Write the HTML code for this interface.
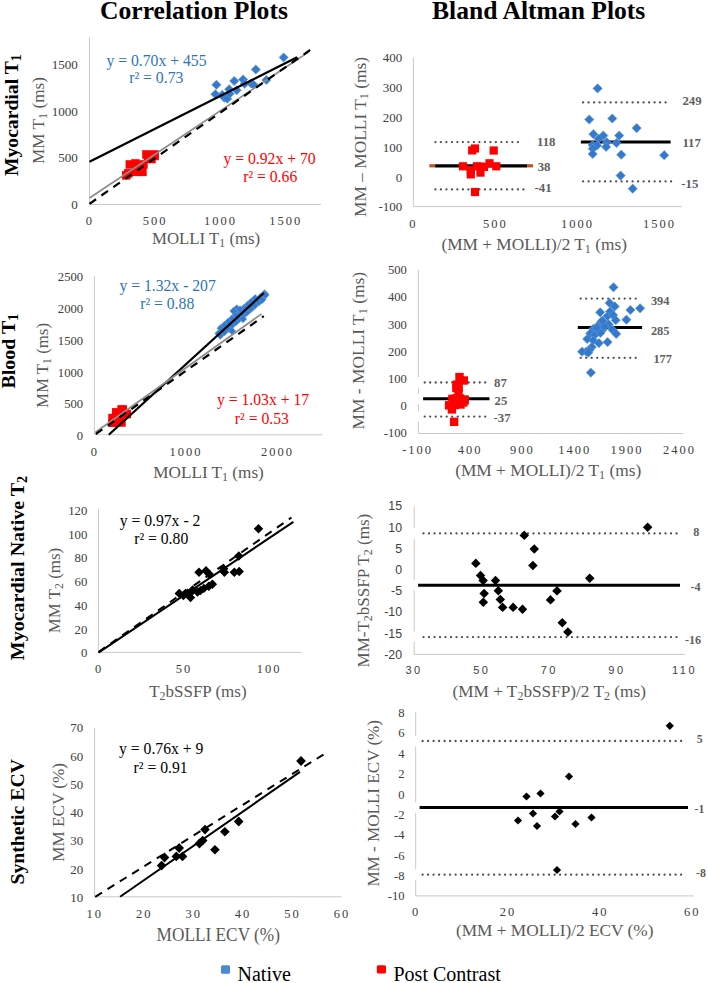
<!DOCTYPE html>
<html><head><meta charset="utf-8"><style>
html,body{margin:0;padding:0;background:#fff;width:708px;height:983px;overflow:hidden}
svg{display:block;font-family:"Liberation Serif",serif}
</style></head><body>
<svg width="708" height="983" viewBox="0 0 708 983">
<rect width="708" height="983" fill="#fff"/>
<text x="100.0" y="19.0" font-size="25.6" fill="#000" font-weight="bold" >Correlation Plots</text>
<text x="432.0" y="19.0" font-size="25.6" fill="#000" font-weight="bold" >Bland Altman Plots</text>
<line x1="89.5" y1="37.5" x2="89.5" y2="204.5" stroke="#c9c9c9" stroke-width="1"/>
<line x1="89.5" y1="204.5" x2="321.0" y2="204.5" stroke="#c9c9c9" stroke-width="1"/>
<text x="77.9" y="209.0" font-size="13.1" text-anchor="end" fill="#404040" >0</text>
<text x="77.9" y="162.3" font-size="13.1" text-anchor="end" fill="#404040" >500</text>
<text x="77.9" y="115.7" font-size="13.1" text-anchor="end" fill="#404040" >1000</text>
<text x="77.9" y="69.0" font-size="13.1" text-anchor="end" fill="#404040" >1500</text>
<text x="89.8" y="224.8" font-size="12.5" text-anchor="middle" fill="#404040" letter-spacing="2.0" >0</text>
<text x="155.1" y="224.8" font-size="12.5" text-anchor="middle" fill="#404040" letter-spacing="2.0" >500</text>
<text x="220.5" y="224.8" font-size="12.5" text-anchor="middle" fill="#404040" letter-spacing="2.0" >1000</text>
<text x="285.8" y="224.8" font-size="12.5" text-anchor="middle" fill="#404040" letter-spacing="2.0" >1500</text>
<rect x="122.0" y="171.1" width="8.5" height="8.5" fill="#ff0000"/>
<rect x="124.1" y="169.1" width="8.5" height="8.5" fill="#ff0000"/>
<rect x="131.9" y="167.6" width="8.5" height="8.5" fill="#ff0000"/>
<rect x="138.2" y="167.6" width="8.5" height="8.5" fill="#ff0000"/>
<rect x="125.6" y="160.2" width="8.5" height="8.5" fill="#ff0000"/>
<rect x="131.2" y="159.2" width="8.5" height="8.5" fill="#ff0000"/>
<rect x="139.2" y="160.2" width="8.5" height="8.5" fill="#ff0000"/>
<rect x="142.2" y="150.2" width="8.5" height="8.5" fill="#ff0000"/>
<rect x="150.3" y="150.2" width="8.5" height="8.5" fill="#ff0000"/>
<rect x="150.3" y="151.7" width="8.5" height="8.5" fill="#ff0000"/>
<rect x="143.8" y="154.2" width="8.5" height="8.5" fill="#ff0000"/>
<rect x="147.2" y="154.8" width="8.5" height="8.5" fill="#ff0000"/>
<rect x="135.8" y="162.8" width="8.5" height="8.5" fill="#ff0000"/>
<path d="M283.6 52.9L288.2 57.4L283.6 61.9L279.1 57.4Z" fill="#3479cc" stroke="#5b96d6" stroke-width="0.7"/>
<path d="M255.8 65.0L260.4 69.5L255.8 74.0L251.2 69.5Z" fill="#3479cc" stroke="#5b96d6" stroke-width="0.7"/>
<path d="M216.4 80.2L221.0 84.8L216.4 89.3L211.8 84.8Z" fill="#3479cc" stroke="#5b96d6" stroke-width="0.7"/>
<path d="M215.4 89.7L220.0 94.2L215.4 98.8L210.8 94.2Z" fill="#3479cc" stroke="#5b96d6" stroke-width="0.7"/>
<path d="M222.3 90.2L226.9 94.7L222.3 99.2L217.8 94.7Z" fill="#3479cc" stroke="#5b96d6" stroke-width="0.7"/>
<path d="M224.3 93.2L228.9 97.7L224.3 102.2L219.8 97.7Z" fill="#3479cc" stroke="#5b96d6" stroke-width="0.7"/>
<path d="M227.3 94.2L231.9 98.7L227.3 103.2L222.8 98.7Z" fill="#3479cc" stroke="#5b96d6" stroke-width="0.7"/>
<path d="M229.2 84.8L233.8 89.3L229.2 93.8L224.6 89.3Z" fill="#3479cc" stroke="#5b96d6" stroke-width="0.7"/>
<path d="M234.2 76.4L238.8 80.9L234.2 85.5L229.6 80.9Z" fill="#3479cc" stroke="#5b96d6" stroke-width="0.7"/>
<path d="M236.7 85.8L241.2 90.3L236.7 94.8L232.1 90.3Z" fill="#3479cc" stroke="#5b96d6" stroke-width="0.7"/>
<path d="M243.1 74.9L247.7 79.4L243.1 84.0L238.5 79.4Z" fill="#3479cc" stroke="#5b96d6" stroke-width="0.7"/>
<path d="M244.6 79.2L249.2 83.8L244.6 88.3L240.0 83.8Z" fill="#3479cc" stroke="#5b96d6" stroke-width="0.7"/>
<path d="M251.0 78.9L255.6 83.4L251.0 88.0L246.4 83.4Z" fill="#3479cc" stroke="#5b96d6" stroke-width="0.7"/>
<path d="M253.5 80.2L258.1 84.8L253.5 89.3L248.9 84.8Z" fill="#3479cc" stroke="#5b96d6" stroke-width="0.7"/>
<path d="M266.3 75.4L270.9 79.9L266.3 84.5L261.8 79.9Z" fill="#3479cc" stroke="#5b96d6" stroke-width="0.7"/>
<path d="M229.7 89.2L234.2 93.7L229.7 98.2L225.1 93.7Z" fill="#3479cc" stroke="#5b96d6" stroke-width="0.7"/>
<line x1="89.5" y1="161.8" x2="297.1" y2="57.3" stroke="#000" stroke-width="2.2"/>
<line x1="89.5" y1="198.0" x2="309.5" y2="51.4" stroke="#8c8c8c" stroke-width="1.7"/>
<line x1="89.5" y1="203.8" x2="310.4" y2="49.8" stroke="#000" stroke-width="2.2" stroke-dasharray="8,6.5"/>
<text x="156.5" y="65.5" font-size="15.7" text-anchor="middle" fill="#2e75b6" >y = 0.70x + 455</text>
<text x="156.3" y="83.2" font-size="15.7" text-anchor="middle" fill="#2e75b6" >r² = 0.73</text>
<text x="269.5" y="164.4" font-size="15.7" text-anchor="middle" fill="#ff0000" >y = 0.92x + 70</text>
<text x="270.2" y="182.0" font-size="15.7" text-anchor="middle" fill="#ff0000" >r² = 0.66</text>
<text x="152.0" y="244.4" font-size="17.3" fill="#595959" textLength="108.2" lengthAdjust="spacingAndGlyphs" >MOLLI T<tspan font-size="70%" dy="3">1</tspan><tspan dy="-3"> (ms)</tspan></text>
<text x="0.0" y="0.0" font-size="18" text-anchor="middle" fill="#595959" textLength="87" lengthAdjust="spacingAndGlyphs" transform="translate(43.9,120.5) scale(0.97,1) rotate(-90)">MM T<tspan font-size="70%" dy="3">1</tspan><tspan dy="-3"> (ms)</tspan></text>
<text x="0.0" y="0.0" font-size="19.8" text-anchor="middle" fill="#000" font-weight="bold" textLength="121.8" lengthAdjust="spacingAndGlyphs" transform="translate(17.8,115.2) rotate(-90)">Myocardial T<tspan font-size="70%" dy="3">1</tspan><tspan dy="-3"></tspan></text>
<line x1="413.4" y1="57.6" x2="413.4" y2="206.6" stroke="#c9c9c9" stroke-width="1"/>
<line x1="413.4" y1="206.6" x2="681.5" y2="206.6" stroke="#c9c9c9" stroke-width="1"/>
<text x="402.3" y="62.4" font-size="13" text-anchor="end" fill="#404040" >400</text>
<text x="402.3" y="92.2" font-size="13" text-anchor="end" fill="#404040" >300</text>
<text x="402.3" y="122.0" font-size="13" text-anchor="end" fill="#404040" >200</text>
<text x="402.3" y="151.8" font-size="13" text-anchor="end" fill="#404040" >100</text>
<text x="402.3" y="181.6" font-size="13" text-anchor="end" fill="#404040" >0</text>
<text x="402.3" y="211.4" font-size="13" text-anchor="end" fill="#404040" >-100</text>
<text x="413.3" y="227.6" font-size="12.5" text-anchor="middle" fill="#404040" letter-spacing="2.0" >0</text>
<text x="495.4" y="227.6" font-size="12.5" text-anchor="middle" fill="#404040" letter-spacing="2.0" >500</text>
<text x="577.5" y="227.6" font-size="12.5" text-anchor="middle" fill="#404040" letter-spacing="2.0" >1000</text>
<text x="659.6" y="227.6" font-size="12.5" text-anchor="middle" fill="#404040" letter-spacing="2.0" >1500</text>
<line x1="435.4" y1="142.1" x2="521.0" y2="142.1" stroke="#4f4f4f" stroke-width="2.3" stroke-dasharray="0.01,5.49" stroke-linecap="round"/>
<line x1="435.4" y1="189.4" x2="523.5" y2="189.4" stroke="#4f4f4f" stroke-width="2.3" stroke-dasharray="0.01,5.49" stroke-linecap="round"/>
<line x1="435.0" y1="165.8" x2="527.1" y2="165.8" stroke="#000" stroke-width="3.2"/>
<rect x="429.3" y="164.2" width="6" height="3.2" fill="#c0561c"/>
<rect x="527.1" y="164.2" width="6" height="3.2" fill="#c0561c"/>
<rect x="468.1" y="146.3" width="8.2" height="8.2" fill="#ff0000"/>
<rect x="470.9" y="144.4" width="8.2" height="8.2" fill="#ff0000"/>
<rect x="489.6" y="146.4" width="8.2" height="8.2" fill="#ff0000"/>
<rect x="458.9" y="162.2" width="8.2" height="8.2" fill="#ff0000"/>
<rect x="466.7" y="166.1" width="8.2" height="8.2" fill="#ff0000"/>
<rect x="466.7" y="170.3" width="8.2" height="8.2" fill="#ff0000"/>
<rect x="472.8" y="162.2" width="8.2" height="8.2" fill="#ff0000"/>
<rect x="476.4" y="162.6" width="8.2" height="8.2" fill="#ff0000"/>
<rect x="476.4" y="168.5" width="8.2" height="8.2" fill="#ff0000"/>
<rect x="479.9" y="162.8" width="8.2" height="8.2" fill="#ff0000"/>
<rect x="485.4" y="159.2" width="8.2" height="8.2" fill="#ff0000"/>
<rect x="492.2" y="162.2" width="8.2" height="8.2" fill="#ff0000"/>
<rect x="470.9" y="187.9" width="8.2" height="8.2" fill="#ff0000"/>
<text x="537.0" y="145.8" font-size="12.8" fill="#5f5f5f" font-weight="bold" >118</text>
<text x="537.7" y="170.7" font-size="12.8" fill="#5f5f5f" font-weight="bold" >38</text>
<text x="534.6" y="192.2" font-size="12.8" fill="#5f5f5f" font-weight="bold" >-41</text>
<line x1="583.1" y1="102.4" x2="667.0" y2="102.4" stroke="#4f4f4f" stroke-width="2.3" stroke-dasharray="0.01,5.49" stroke-linecap="round"/>
<line x1="583.1" y1="181.4" x2="671.8" y2="181.4" stroke="#4f4f4f" stroke-width="2.3" stroke-dasharray="0.01,5.49" stroke-linecap="round"/>
<line x1="580.9" y1="142.1" x2="670.6" y2="142.1" stroke="#000" stroke-width="3"/>
<path d="M597.6 83.8L602.2 88.4L597.6 93.0L593.0 88.4Z" fill="#3479cc" stroke="#5b96d6" stroke-width="0.7"/>
<path d="M589.3 114.9L593.9 119.5L589.3 124.1L584.7 119.5Z" fill="#3479cc" stroke="#5b96d6" stroke-width="0.7"/>
<path d="M612.3 113.9L616.9 118.5L612.3 123.1L607.7 118.5Z" fill="#3479cc" stroke="#5b96d6" stroke-width="0.7"/>
<path d="M636.7 123.5L641.3 128.1L636.7 132.7L632.1 128.1Z" fill="#3479cc" stroke="#5b96d6" stroke-width="0.7"/>
<path d="M593.4 129.6L598.0 134.2L593.4 138.8L588.8 134.2Z" fill="#3479cc" stroke="#5b96d6" stroke-width="0.7"/>
<path d="M603.3 131.0L607.9 135.6L603.3 140.2L598.7 135.6Z" fill="#3479cc" stroke="#5b96d6" stroke-width="0.7"/>
<path d="M619.2 131.0L623.8 135.6L619.2 140.2L614.6 135.6Z" fill="#3479cc" stroke="#5b96d6" stroke-width="0.7"/>
<path d="M598.7 134.2L603.3 138.8L598.7 143.4L594.1 138.8Z" fill="#3479cc" stroke="#5b96d6" stroke-width="0.7"/>
<path d="M606.8 137.7L611.4 142.3L606.8 146.9L602.2 142.3Z" fill="#3479cc" stroke="#5b96d6" stroke-width="0.7"/>
<path d="M616.4 138.4L621.0 143.0L616.4 147.6L611.8 143.0Z" fill="#3479cc" stroke="#5b96d6" stroke-width="0.7"/>
<path d="M592.7 140.5L597.3 145.1L592.7 149.7L588.1 145.1Z" fill="#3479cc" stroke="#5b96d6" stroke-width="0.7"/>
<path d="M597.0 140.9L601.6 145.5L597.0 150.1L592.4 145.5Z" fill="#3479cc" stroke="#5b96d6" stroke-width="0.7"/>
<path d="M606.1 142.3L610.7 146.9L606.1 151.5L601.5 146.9Z" fill="#3479cc" stroke="#5b96d6" stroke-width="0.7"/>
<path d="M592.7 144.1L597.3 148.7L592.7 153.3L588.1 148.7Z" fill="#3479cc" stroke="#5b96d6" stroke-width="0.7"/>
<path d="M592.7 149.4L597.3 154.0L592.7 158.6L588.1 154.0Z" fill="#3479cc" stroke="#5b96d6" stroke-width="0.7"/>
<path d="M621.3 150.1L625.9 154.7L621.3 159.3L616.7 154.7Z" fill="#3479cc" stroke="#5b96d6" stroke-width="0.7"/>
<path d="M664.2 150.6L668.8 155.2L664.2 159.8L659.6 155.2Z" fill="#3479cc" stroke="#5b96d6" stroke-width="0.7"/>
<path d="M620.6 171.0L625.2 175.6L620.6 180.2L616.0 175.6Z" fill="#3479cc" stroke="#5b96d6" stroke-width="0.7"/>
<path d="M632.7 184.1L637.3 188.7L632.7 193.3L628.1 188.7Z" fill="#3479cc" stroke="#5b96d6" stroke-width="0.7"/>
<text x="682.4" y="105.4" font-size="12.8" fill="#5f5f5f" font-weight="bold" >249</text>
<text x="682.4" y="147.2" font-size="12.8" fill="#5f5f5f" font-weight="bold" >117</text>
<text x="681.3" y="187.7" font-size="12.8" fill="#5f5f5f" font-weight="bold" >-15</text>
<text x="441.5" y="250.4" font-size="17.4" fill="#595959" textLength="185.4" lengthAdjust="spacingAndGlyphs" >(MM + MOLLI)/2 T<tspan font-size="70%" dy="3">1</tspan><tspan dy="-3"> (ms)</tspan></text>
<text x="0.0" y="0.0" font-size="17.7" text-anchor="middle" fill="#595959" textLength="160" lengthAdjust="spacingAndGlyphs" transform="translate(365.5,137.0) scale(0.97,1) rotate(-90)">MM – MOLLI T<tspan font-size="70%" dy="3">1</tspan><tspan dy="-3"> (ms)</tspan></text>
<line x1="94.4" y1="276.3" x2="94.4" y2="434.8" stroke="#c9c9c9" stroke-width="1"/>
<line x1="94.4" y1="434.8" x2="322.4" y2="434.8" stroke="#c9c9c9" stroke-width="1"/>
<text x="83.2" y="440.3" font-size="12.7" text-anchor="end" fill="#404040" >0</text>
<text x="83.2" y="408.4" font-size="12.7" text-anchor="end" fill="#404040" >500</text>
<text x="83.2" y="376.5" font-size="12.7" text-anchor="end" fill="#404040" >1000</text>
<text x="83.2" y="344.6" font-size="12.7" text-anchor="end" fill="#404040" >1500</text>
<text x="83.2" y="312.7" font-size="12.7" text-anchor="end" fill="#404040" >2000</text>
<text x="83.2" y="280.8" font-size="12.7" text-anchor="end" fill="#404040" >2500</text>
<text x="94.8" y="455.6" font-size="12.5" text-anchor="middle" fill="#404040" letter-spacing="2.0" >0</text>
<text x="186.1" y="455.6" font-size="12.5" text-anchor="middle" fill="#404040" letter-spacing="2.0" >1000</text>
<text x="277.4" y="455.6" font-size="12.5" text-anchor="middle" fill="#404040" letter-spacing="2.0" >2000</text>
<rect x="108.3" y="418.6" width="8.4" height="8.4" fill="#ff0000"/>
<rect x="112.3" y="418.3" width="8.4" height="8.4" fill="#ff0000"/>
<rect x="117.3" y="418.3" width="8.4" height="8.4" fill="#ff0000"/>
<rect x="112.0" y="408.1" width="8.4" height="8.4" fill="#ff0000"/>
<rect x="117.3" y="405.3" width="8.4" height="8.4" fill="#ff0000"/>
<rect x="118.6" y="405.3" width="8.4" height="8.4" fill="#ff0000"/>
<rect x="108.3" y="413.8" width="8.4" height="8.4" fill="#ff0000"/>
<rect x="122.4" y="409.6" width="8.4" height="8.4" fill="#ff0000"/>
<rect x="122.4" y="410.0" width="8.4" height="8.4" fill="#ff0000"/>
<rect x="114.8" y="412.8" width="8.4" height="8.4" fill="#ff0000"/>
<path d="M218.5 329.8L222.2 333.5L218.5 337.2L214.8 333.5Z" fill="#3479cc" stroke="#5b96d6" stroke-width="0.7"/>
<path d="M220.3 331.9L224.0 335.6L220.3 339.3L216.6 335.6Z" fill="#3479cc" stroke="#5b96d6" stroke-width="0.7"/>
<path d="M222.3 326.5L226.0 330.2L222.3 333.9L218.6 330.2Z" fill="#3479cc" stroke="#5b96d6" stroke-width="0.7"/>
<path d="M224.2 328.6L227.9 332.3L224.2 336.0L220.5 332.3Z" fill="#3479cc" stroke="#5b96d6" stroke-width="0.7"/>
<path d="M220.7 324.6L224.4 328.3L220.7 332.0L217.0 328.3Z" fill="#3479cc" stroke="#5b96d6" stroke-width="0.7"/>
<path d="M226.2 323.1L229.9 326.8L226.2 330.5L222.5 326.8Z" fill="#3479cc" stroke="#5b96d6" stroke-width="0.7"/>
<path d="M228.0 325.2L231.7 328.9L228.0 332.6L224.3 328.9Z" fill="#3479cc" stroke="#5b96d6" stroke-width="0.7"/>
<path d="M224.5 321.2L228.2 324.9L224.5 328.6L220.8 324.9Z" fill="#3479cc" stroke="#5b96d6" stroke-width="0.7"/>
<path d="M230.0 319.8L233.7 323.5L230.0 327.2L226.3 323.5Z" fill="#3479cc" stroke="#5b96d6" stroke-width="0.7"/>
<path d="M231.8 321.9L235.5 325.6L231.8 329.3L228.1 325.6Z" fill="#3479cc" stroke="#5b96d6" stroke-width="0.7"/>
<path d="M228.4 317.9L232.1 321.6L228.4 325.3L224.7 321.6Z" fill="#3479cc" stroke="#5b96d6" stroke-width="0.7"/>
<path d="M233.8 316.5L237.5 320.2L233.8 323.9L230.1 320.2Z" fill="#3479cc" stroke="#5b96d6" stroke-width="0.7"/>
<path d="M235.7 318.6L239.4 322.3L235.7 326.0L232.0 322.3Z" fill="#3479cc" stroke="#5b96d6" stroke-width="0.7"/>
<path d="M232.2 314.6L235.9 318.3L232.2 322.0L228.5 318.3Z" fill="#3479cc" stroke="#5b96d6" stroke-width="0.7"/>
<path d="M237.7 313.1L241.4 316.8L237.7 320.5L234.0 316.8Z" fill="#3479cc" stroke="#5b96d6" stroke-width="0.7"/>
<path d="M239.5 315.2L243.2 318.9L239.5 322.6L235.8 318.9Z" fill="#3479cc" stroke="#5b96d6" stroke-width="0.7"/>
<path d="M236.0 311.2L239.7 314.9L236.0 318.6L232.3 314.9Z" fill="#3479cc" stroke="#5b96d6" stroke-width="0.7"/>
<path d="M241.5 309.8L245.2 313.5L241.5 317.2L237.8 313.5Z" fill="#3479cc" stroke="#5b96d6" stroke-width="0.7"/>
<path d="M243.3 311.9L247.0 315.6L243.3 319.3L239.6 315.6Z" fill="#3479cc" stroke="#5b96d6" stroke-width="0.7"/>
<path d="M239.9 307.9L243.6 311.6L239.9 315.3L236.2 311.6Z" fill="#3479cc" stroke="#5b96d6" stroke-width="0.7"/>
<path d="M245.3 306.5L249.0 310.2L245.3 313.9L241.6 310.2Z" fill="#3479cc" stroke="#5b96d6" stroke-width="0.7"/>
<path d="M247.2 308.6L250.9 312.3L247.2 316.0L243.5 312.3Z" fill="#3479cc" stroke="#5b96d6" stroke-width="0.7"/>
<path d="M243.7 304.6L247.4 308.3L243.7 312.0L240.0 308.3Z" fill="#3479cc" stroke="#5b96d6" stroke-width="0.7"/>
<path d="M249.2 303.1L252.9 306.8L249.2 310.5L245.5 306.8Z" fill="#3479cc" stroke="#5b96d6" stroke-width="0.7"/>
<path d="M251.0 305.2L254.7 308.9L251.0 312.6L247.3 308.9Z" fill="#3479cc" stroke="#5b96d6" stroke-width="0.7"/>
<path d="M247.5 301.2L251.2 304.9L247.5 308.6L243.8 304.9Z" fill="#3479cc" stroke="#5b96d6" stroke-width="0.7"/>
<path d="M253.0 299.8L256.7 303.5L253.0 307.2L249.3 303.5Z" fill="#3479cc" stroke="#5b96d6" stroke-width="0.7"/>
<path d="M254.8 301.9L258.5 305.6L254.8 309.3L251.1 305.6Z" fill="#3479cc" stroke="#5b96d6" stroke-width="0.7"/>
<path d="M251.4 297.9L255.1 301.6L251.4 305.3L247.7 301.6Z" fill="#3479cc" stroke="#5b96d6" stroke-width="0.7"/>
<path d="M256.8 296.5L260.5 300.2L256.8 303.9L253.1 300.2Z" fill="#3479cc" stroke="#5b96d6" stroke-width="0.7"/>
<path d="M258.7 298.6L262.4 302.3L258.7 306.0L255.0 302.3Z" fill="#3479cc" stroke="#5b96d6" stroke-width="0.7"/>
<path d="M255.2 294.6L258.9 298.3L255.2 302.0L251.5 298.3Z" fill="#3479cc" stroke="#5b96d6" stroke-width="0.7"/>
<path d="M260.7 293.1L264.4 296.8L260.7 300.5L257.0 296.8Z" fill="#3479cc" stroke="#5b96d6" stroke-width="0.7"/>
<path d="M262.5 295.2L266.2 298.9L262.5 302.6L258.8 298.9Z" fill="#3479cc" stroke="#5b96d6" stroke-width="0.7"/>
<path d="M264.5 289.8L268.2 293.5L264.5 297.2L260.8 293.5Z" fill="#3479cc" stroke="#5b96d6" stroke-width="0.7"/>
<path d="M236.7 304.8L240.4 308.5L236.7 312.2L233.0 308.5Z" fill="#3479cc" stroke="#5b96d6" stroke-width="0.7"/>
<path d="M233.5 307.3L237.2 311.0L233.5 314.7L229.8 311.0Z" fill="#3479cc" stroke="#5b96d6" stroke-width="0.7"/>
<path d="M240.0 305.8L243.7 309.5L240.0 313.2L236.3 309.5Z" fill="#3479cc" stroke="#5b96d6" stroke-width="0.7"/>
<path d="M246.0 304.8L249.7 308.5L246.0 312.2L242.3 308.5Z" fill="#3479cc" stroke="#5b96d6" stroke-width="0.7"/>
<path d="M262.0 296.3L265.7 300.0L262.0 303.7L258.3 300.0Z" fill="#3479cc" stroke="#5b96d6" stroke-width="0.7"/>
<path d="M265.5 291.3L269.2 295.0L265.5 298.7L261.8 295.0Z" fill="#3479cc" stroke="#5b96d6" stroke-width="0.7"/>
<path d="M232.0 327.3L235.7 331.0L232.0 334.7L228.3 331.0Z" fill="#3479cc" stroke="#5b96d6" stroke-width="0.7"/>
<path d="M243.0 315.3L246.7 319.0L243.0 322.7L239.3 319.0Z" fill="#3479cc" stroke="#5b96d6" stroke-width="0.7"/>
<line x1="108.8" y1="434.8" x2="263.8" y2="293.0" stroke="#000" stroke-width="2.2"/>
<line x1="95.5" y1="432.3" x2="261.6" y2="313.9" stroke="#8c8c8c" stroke-width="1.7"/>
<line x1="95.8" y1="434.0" x2="263.8" y2="316.2" stroke="#000" stroke-width="2.2" stroke-dasharray="8,6.5"/>
<text x="167.6" y="290.7" font-size="15.7" text-anchor="middle" fill="#2e75b6" >y = 1.32x - 207</text>
<text x="167.2" y="308.6" font-size="15.7" text-anchor="middle" fill="#2e75b6" >r² = 0.88</text>
<text x="263.0" y="405.0" font-size="15.7" text-anchor="middle" fill="#ff0000" >y = 1.03x + 17</text>
<text x="261.9" y="424.2" font-size="15.7" text-anchor="middle" fill="#ff0000" >r² = 0.53</text>
<text x="153.3" y="478.3" font-size="17.5" fill="#595959" textLength="110.5" lengthAdjust="spacingAndGlyphs" >MOLLI T<tspan font-size="70%" dy="3">1</tspan><tspan dy="-3"> (ms)</tspan></text>
<text x="0.0" y="0.0" font-size="17.5" text-anchor="middle" fill="#595959" textLength="85" lengthAdjust="spacingAndGlyphs" transform="translate(48.2,365.5) scale(0.97,1) rotate(-90)">MM T<tspan font-size="70%" dy="3">1</tspan><tspan dy="-3"> (ms)</tspan></text>
<text x="0.0" y="0.0" font-size="19.8" text-anchor="middle" fill="#000" font-weight="bold" textLength="74.8" lengthAdjust="spacingAndGlyphs" transform="translate(15.2,351.1) rotate(-90)">Blood T<tspan font-size="70%" dy="3">1</tspan><tspan dy="-3"></tspan></text>
<line x1="418.4" y1="270.0" x2="418.4" y2="377.3" stroke="#c9c9c9" stroke-width="1"/>
<line x1="418.4" y1="387.7" x2="418.4" y2="393.5" stroke="#c9c9c9" stroke-width="1"/>
<line x1="418.4" y1="403.9" x2="418.4" y2="411.4" stroke="#c9c9c9" stroke-width="1"/>
<line x1="418.4" y1="421.8" x2="418.4" y2="433.5" stroke="#c9c9c9" stroke-width="1"/>
<line x1="418.4" y1="433.5" x2="683.0" y2="433.5" stroke="#c9c9c9" stroke-width="1"/>
<text x="406.9" y="274.2" font-size="12.6" text-anchor="end" fill="#404040" >500</text>
<text x="406.9" y="301.4" font-size="12.6" text-anchor="end" fill="#404040" >400</text>
<text x="406.9" y="328.6" font-size="12.6" text-anchor="end" fill="#404040" >300</text>
<text x="406.9" y="355.8" font-size="12.6" text-anchor="end" fill="#404040" >200</text>
<text x="406.9" y="383.0" font-size="12.6" text-anchor="end" fill="#404040" >100</text>
<text x="406.9" y="410.2" font-size="12.6" text-anchor="end" fill="#404040" >0</text>
<text x="406.9" y="437.4" font-size="12.6" text-anchor="end" fill="#404040" >-100</text>
<text x="417.6" y="454.1" font-size="12.5" text-anchor="middle" fill="#404040" letter-spacing="2.0" >-100</text>
<text x="470.0" y="454.1" font-size="12.5" text-anchor="middle" fill="#404040" letter-spacing="2.0" >400</text>
<text x="522.3" y="454.1" font-size="12.5" text-anchor="middle" fill="#404040" letter-spacing="2.0" >900</text>
<text x="574.7" y="454.1" font-size="12.5" text-anchor="middle" fill="#404040" letter-spacing="2.0" >1400</text>
<text x="627.0" y="454.1" font-size="12.5" text-anchor="middle" fill="#404040" letter-spacing="2.0" >1900</text>
<text x="679.4" y="454.1" font-size="12.5" text-anchor="middle" fill="#404040" letter-spacing="2.0" >2400</text>
<line x1="424.7" y1="382.5" x2="485.7" y2="382.5" stroke="#4f4f4f" stroke-width="2.3" stroke-dasharray="0.01,5.49" stroke-linecap="round"/>
<line x1="424.7" y1="416.6" x2="485.7" y2="416.6" stroke="#4f4f4f" stroke-width="2.3" stroke-dasharray="0.01,5.49" stroke-linecap="round"/>
<line x1="423.1" y1="398.7" x2="489.5" y2="398.7" stroke="#000" stroke-width="3"/>
<rect x="455.3" y="372.9" width="8.4" height="8.4" fill="#ff0000"/>
<rect x="459.6" y="376.3" width="8.4" height="8.4" fill="#ff0000"/>
<rect x="452.4" y="380.5" width="8.4" height="8.4" fill="#ff0000"/>
<rect x="454.4" y="383.6" width="8.4" height="8.4" fill="#ff0000"/>
<rect x="452.2" y="383.8" width="8.4" height="8.4" fill="#ff0000"/>
<rect x="454.3" y="387.8" width="8.4" height="8.4" fill="#ff0000"/>
<rect x="448.2" y="394.7" width="8.4" height="8.4" fill="#ff0000"/>
<rect x="451.8" y="394.3" width="8.4" height="8.4" fill="#ff0000"/>
<rect x="455.8" y="394.3" width="8.4" height="8.4" fill="#ff0000"/>
<rect x="460.3" y="395.3" width="8.4" height="8.4" fill="#ff0000"/>
<rect x="460.3" y="396.3" width="8.4" height="8.4" fill="#ff0000"/>
<rect x="444.9" y="401.1" width="8.4" height="8.4" fill="#ff0000"/>
<rect x="447.7" y="405.2" width="8.4" height="8.4" fill="#ff0000"/>
<rect x="450.8" y="400.8" width="8.4" height="8.4" fill="#ff0000"/>
<rect x="456.3" y="400.3" width="8.4" height="8.4" fill="#ff0000"/>
<rect x="459.1" y="398.2" width="8.4" height="8.4" fill="#ff0000"/>
<rect x="449.9" y="417.6" width="8.4" height="8.4" fill="#ff0000"/>
<text x="494.0" y="386.9" font-size="12.8" fill="#5f5f5f" font-weight="bold" >87</text>
<text x="494.6" y="404.7" font-size="12.8" fill="#5f5f5f" font-weight="bold" >25</text>
<text x="493.5" y="421.9" font-size="12.8" fill="#5f5f5f" font-weight="bold" >-37</text>
<line x1="580.7" y1="298.6" x2="641.1" y2="298.6" stroke="#4f4f4f" stroke-width="2.3" stroke-dasharray="0.01,5.49" stroke-linecap="round"/>
<line x1="580.7" y1="357.8" x2="641.1" y2="357.8" stroke="#4f4f4f" stroke-width="2.3" stroke-dasharray="0.01,5.49" stroke-linecap="round"/>
<line x1="577.8" y1="327.5" x2="642.1" y2="327.5" stroke="#000" stroke-width="2.8"/>
<path d="M613.5 282.7L618.1 287.3L613.5 291.9L608.9 287.3Z" fill="#3479cc" stroke="#5b96d6" stroke-width="0.7"/>
<path d="M609.6 298.3L614.2 302.9L609.6 307.5L605.0 302.9Z" fill="#3479cc" stroke="#5b96d6" stroke-width="0.7"/>
<path d="M614.7 301.8L619.3 306.4L614.7 311.0L610.1 306.4Z" fill="#3479cc" stroke="#5b96d6" stroke-width="0.7"/>
<path d="M630.4 305.4L635.0 310.0L630.4 314.6L625.8 310.0Z" fill="#3479cc" stroke="#5b96d6" stroke-width="0.7"/>
<path d="M640.1 303.7L644.7 308.3L640.1 312.9L635.5 308.3Z" fill="#3479cc" stroke="#5b96d6" stroke-width="0.7"/>
<path d="M600.2 307.7L604.8 312.3L600.2 316.9L595.6 312.3Z" fill="#3479cc" stroke="#5b96d6" stroke-width="0.7"/>
<path d="M610.1 306.9L614.7 311.5L610.1 316.1L605.5 311.5Z" fill="#3479cc" stroke="#5b96d6" stroke-width="0.7"/>
<path d="M607.6 311.5L612.2 316.1L607.6 320.7L603.0 316.1Z" fill="#3479cc" stroke="#5b96d6" stroke-width="0.7"/>
<path d="M613.1 310.5L617.7 315.1L613.1 319.7L608.5 315.1Z" fill="#3479cc" stroke="#5b96d6" stroke-width="0.7"/>
<path d="M615.7 315.6L620.3 320.2L615.7 324.8L611.1 320.2Z" fill="#3479cc" stroke="#5b96d6" stroke-width="0.7"/>
<path d="M626.4 315.1L631.0 319.7L626.4 324.3L621.8 319.7Z" fill="#3479cc" stroke="#5b96d6" stroke-width="0.7"/>
<path d="M601.4 317.1L606.0 321.7L601.4 326.3L596.8 321.7Z" fill="#3479cc" stroke="#5b96d6" stroke-width="0.7"/>
<path d="M608.6 319.7L613.2 324.3L608.6 328.9L604.0 324.3Z" fill="#3479cc" stroke="#5b96d6" stroke-width="0.7"/>
<path d="M597.4 321.7L602.0 326.3L597.4 330.9L592.8 326.3Z" fill="#3479cc" stroke="#5b96d6" stroke-width="0.7"/>
<path d="M602.5 325.2L607.1 329.8L602.5 334.4L597.9 329.8Z" fill="#3479cc" stroke="#5b96d6" stroke-width="0.7"/>
<path d="M612.6 325.2L617.2 329.8L612.6 334.4L608.0 329.8Z" fill="#3479cc" stroke="#5b96d6" stroke-width="0.7"/>
<path d="M616.2 329.3L620.8 333.9L616.2 338.5L611.6 333.9Z" fill="#3479cc" stroke="#5b96d6" stroke-width="0.7"/>
<path d="M593.3 324.2L597.9 328.8L593.3 333.4L588.7 328.8Z" fill="#3479cc" stroke="#5b96d6" stroke-width="0.7"/>
<path d="M590.3 328.8L594.9 333.4L590.3 338.0L585.7 333.4Z" fill="#3479cc" stroke="#5b96d6" stroke-width="0.7"/>
<path d="M594.8 330.3L599.4 334.9L594.8 339.5L590.2 334.9Z" fill="#3479cc" stroke="#5b96d6" stroke-width="0.7"/>
<path d="M600.4 328.3L605.0 332.9L600.4 337.5L595.8 332.9Z" fill="#3479cc" stroke="#5b96d6" stroke-width="0.7"/>
<path d="M587.2 334.4L591.8 339.0L587.2 343.6L582.6 339.0Z" fill="#3479cc" stroke="#5b96d6" stroke-width="0.7"/>
<path d="M593.3 335.9L597.9 340.5L593.3 345.1L588.7 340.5Z" fill="#3479cc" stroke="#5b96d6" stroke-width="0.7"/>
<path d="M598.9 338.5L603.5 343.1L598.9 347.7L594.3 343.1Z" fill="#3479cc" stroke="#5b96d6" stroke-width="0.7"/>
<path d="M607.6 337.5L612.2 342.1L607.6 346.7L603.0 342.1Z" fill="#3479cc" stroke="#5b96d6" stroke-width="0.7"/>
<path d="M591.8 342.5L596.4 347.1L591.8 351.7L587.2 347.1Z" fill="#3479cc" stroke="#5b96d6" stroke-width="0.7"/>
<path d="M589.2 345.6L593.8 350.2L589.2 354.8L584.6 350.2Z" fill="#3479cc" stroke="#5b96d6" stroke-width="0.7"/>
<path d="M586.2 347.1L590.8 351.7L586.2 356.3L581.6 351.7Z" fill="#3479cc" stroke="#5b96d6" stroke-width="0.7"/>
<path d="M582.1 347.1L586.7 351.7L582.1 356.3L577.5 351.7Z" fill="#3479cc" stroke="#5b96d6" stroke-width="0.7"/>
<path d="M588.2 348.1L592.8 352.7L588.2 357.3L583.6 352.7Z" fill="#3479cc" stroke="#5b96d6" stroke-width="0.7"/>
<path d="M590.8 368.0L595.4 372.6L590.8 377.2L586.2 372.6Z" fill="#3479cc" stroke="#5b96d6" stroke-width="0.7"/>
<path d="M596.9 323.2L601.5 327.8L596.9 332.4L592.3 327.8Z" fill="#3479cc" stroke="#5b96d6" stroke-width="0.7"/>
<path d="M604.5 321.7L609.1 326.3L604.5 330.9L599.9 326.3Z" fill="#3479cc" stroke="#5b96d6" stroke-width="0.7"/>
<path d="M602.5 316.1L607.1 320.7L602.5 325.3L597.9 320.7Z" fill="#3479cc" stroke="#5b96d6" stroke-width="0.7"/>
<text x="650.9" y="305.4" font-size="12.4" fill="#5f5f5f" font-weight="bold" >394</text>
<text x="650.9" y="335.0" font-size="12.4" fill="#5f5f5f" font-weight="bold" >285</text>
<text x="653.4" y="362.9" font-size="12.4" fill="#5f5f5f" font-weight="bold" >177</text>
<text x="455.2" y="476.4" font-size="16.6" fill="#595959" textLength="186" lengthAdjust="spacingAndGlyphs" >(MM + MOLLI)/2 T<tspan font-size="70%" dy="3">1</tspan><tspan dy="-3"> (ms)</tspan></text>
<text x="0.0" y="0.0" font-size="17.1" text-anchor="middle" fill="#595959" textLength="157.6" lengthAdjust="spacingAndGlyphs" transform="translate(364.3,350.7) scale(0.97,1) rotate(-90)">MM - MOLLI T<tspan font-size="70%" dy="3">1</tspan><tspan dy="-3"> (ms)</tspan></text>
<line x1="98.5" y1="509.2" x2="98.5" y2="652.4" stroke="#c9c9c9" stroke-width="1"/>
<line x1="98.5" y1="652.4" x2="301.9" y2="652.4" stroke="#c9c9c9" stroke-width="1"/>
<text x="87.4" y="657.3" font-size="12.8" text-anchor="end" fill="#404040" >0</text>
<text x="87.4" y="633.5" font-size="12.8" text-anchor="end" fill="#404040" >20</text>
<text x="87.4" y="609.8" font-size="12.8" text-anchor="end" fill="#404040" >40</text>
<text x="87.4" y="586.0" font-size="12.8" text-anchor="end" fill="#404040" >60</text>
<text x="87.4" y="562.3" font-size="12.8" text-anchor="end" fill="#404040" >80</text>
<text x="87.4" y="538.6" font-size="12.8" text-anchor="end" fill="#404040" >100</text>
<text x="87.4" y="514.8" font-size="12.8" text-anchor="end" fill="#404040" >120</text>
<text x="99.0" y="673.0" font-size="12.5" text-anchor="middle" fill="#404040" letter-spacing="2.0" >0</text>
<text x="184.1" y="673.0" font-size="12.5" text-anchor="middle" fill="#404040" letter-spacing="2.0" >50</text>
<text x="269.2" y="673.0" font-size="12.5" text-anchor="middle" fill="#404040" letter-spacing="2.0" >100</text>
<path d="M258.5 524.0L263.2 528.7L258.5 533.4L253.8 528.7Z" fill="#000"/>
<path d="M238.8 551.3L243.5 556.0L238.8 560.7L234.1 556.0Z" fill="#000"/>
<path d="M223.7 564.0L228.4 568.7L223.7 573.4L219.0 568.7Z" fill="#000"/>
<path d="M224.4 567.5L229.1 572.2L224.4 576.9L219.7 572.2Z" fill="#000"/>
<path d="M234.3 567.5L239.0 572.2L234.3 576.9L229.6 572.2Z" fill="#000"/>
<path d="M239.2 566.8L243.9 571.5L239.2 576.2L234.5 571.5Z" fill="#000"/>
<path d="M199.0 567.5L203.7 572.2L199.0 576.9L194.3 572.2Z" fill="#000"/>
<path d="M206.0 566.1L210.7 570.8L206.0 575.5L201.3 570.8Z" fill="#000"/>
<path d="M209.3 569.6L214.0 574.3L209.3 579.0L204.6 574.3Z" fill="#000"/>
<path d="M212.4 579.5L217.1 584.2L212.4 588.9L207.7 584.2Z" fill="#000"/>
<path d="M208.8 581.6L213.5 586.3L208.8 591.0L204.1 586.3Z" fill="#000"/>
<path d="M203.9 583.7L208.6 588.4L203.9 593.1L199.2 588.4Z" fill="#000"/>
<path d="M200.4 585.9L205.1 590.6L200.4 595.3L195.7 590.6Z" fill="#000"/>
<path d="M197.5 587.3L202.2 592.0L197.5 596.7L192.8 592.0Z" fill="#000"/>
<path d="M192.6 585.2L197.3 589.9L192.6 594.6L187.9 589.9Z" fill="#000"/>
<path d="M189.8 588.7L194.5 593.4L189.8 598.1L185.1 593.4Z" fill="#000"/>
<path d="M185.5 588.7L190.2 593.4L185.5 598.1L180.8 593.4Z" fill="#000"/>
<path d="M179.2 588.7L183.9 593.4L179.2 598.1L174.5 593.4Z" fill="#000"/>
<path d="M190.5 592.9L195.2 597.6L190.5 602.3L185.8 597.6Z" fill="#000"/>
<path d="M183.4 590.8L188.1 595.5L183.4 600.2L178.7 595.5Z" fill="#000"/>
<line x1="98.5" y1="652.6" x2="293.4" y2="521.9" stroke="#000" stroke-width="2"/>
<line x1="98.5" y1="652.0" x2="291.5" y2="517.5" stroke="#000" stroke-width="2" stroke-dasharray="8,6.5"/>
<text x="160.0" y="525.8" font-size="15.7" text-anchor="middle" fill="#000" >y = 0.97x - 2</text>
<text x="161.2" y="544.4" font-size="15.7" text-anchor="middle" fill="#000" >r² = 0.80</text>
<text x="149.2" y="696.6" font-size="17.3" fill="#595959" textLength="97.4" lengthAdjust="spacingAndGlyphs" >T<tspan font-size="70%" dy="3">2</tspan><tspan dy="-3">bSSFP (ms)</tspan></text>
<text x="0.0" y="0.0" font-size="17.1" text-anchor="middle" fill="#595959" textLength="85.5" lengthAdjust="spacingAndGlyphs" transform="translate(59.6,590.6) scale(0.97,1) rotate(-90)">MM T<tspan font-size="70%" dy="3">2</tspan><tspan dy="-3"> (ms)</tspan></text>
<text x="0.0" y="0.0" font-size="19.8" text-anchor="middle" fill="#000" font-weight="bold" textLength="184.3" lengthAdjust="spacingAndGlyphs" transform="translate(24.0,568.0) rotate(-90)">Myocardial Native T<tspan font-size="70%" dy="3">2</tspan><tspan dy="-3"></tspan></text>
<line x1="414.2" y1="506.2" x2="414.2" y2="528.3" stroke="#c9c9c9" stroke-width="1"/>
<line x1="414.2" y1="538.7" x2="414.2" y2="580.1" stroke="#c9c9c9" stroke-width="1"/>
<line x1="414.2" y1="590.5" x2="414.2" y2="631.4" stroke="#c9c9c9" stroke-width="1"/>
<line x1="414.2" y1="641.8" x2="414.2" y2="654.4" stroke="#c9c9c9" stroke-width="1"/>
<line x1="414.2" y1="654.4" x2="684.8" y2="654.4" stroke="#c9c9c9" stroke-width="1"/>
<text x="402.0" y="510.3" font-size="12.3" text-anchor="end" fill="#404040" font-family="Liberation Sans" >15</text>
<text x="402.0" y="531.5" font-size="12.3" text-anchor="end" fill="#404040" font-family="Liberation Sans" >10</text>
<text x="402.0" y="552.7" font-size="12.3" text-anchor="end" fill="#404040" font-family="Liberation Sans" >5</text>
<text x="402.0" y="573.9" font-size="12.3" text-anchor="end" fill="#404040" font-family="Liberation Sans" >0</text>
<text x="402.0" y="595.1" font-size="12.3" text-anchor="end" fill="#404040" font-family="Liberation Sans" >-5</text>
<text x="402.0" y="616.3" font-size="12.3" text-anchor="end" fill="#404040" font-family="Liberation Sans" >-10</text>
<text x="402.0" y="637.5" font-size="12.3" text-anchor="end" fill="#404040" font-family="Liberation Sans" >-15</text>
<text x="402.0" y="658.7" font-size="12.3" text-anchor="end" fill="#404040" font-family="Liberation Sans" >-20</text>
<text x="414.1" y="674.3" font-size="11" text-anchor="middle" fill="#404040" font-family="Liberation Sans" letter-spacing="2.5" >30</text>
<text x="481.8" y="674.3" font-size="11" text-anchor="middle" fill="#404040" font-family="Liberation Sans" letter-spacing="2.5" >50</text>
<text x="549.3" y="674.3" font-size="11" text-anchor="middle" fill="#404040" font-family="Liberation Sans" letter-spacing="2.5" >70</text>
<text x="616.9" y="674.3" font-size="11" text-anchor="middle" fill="#404040" font-family="Liberation Sans" letter-spacing="2.5" >90</text>
<text x="684.5" y="674.3" font-size="11" text-anchor="middle" fill="#404040" font-family="Liberation Sans" letter-spacing="2.5" >110</text>
<line x1="423.5" y1="533.4" x2="679.2" y2="533.4" stroke="#4f4f4f" stroke-width="2.3" stroke-dasharray="0.01,5.49" stroke-linecap="round"/>
<line x1="423.5" y1="637.1" x2="681.0" y2="637.1" stroke="#4f4f4f" stroke-width="2.3" stroke-dasharray="0.01,5.49" stroke-linecap="round"/>
<path d="M475.8 558.6L480.6 563.4L475.8 568.1L471.1 563.4Z" fill="#000"/>
<path d="M480.5 570.8L485.2 575.5L480.5 580.2L475.8 575.5Z" fill="#000"/>
<path d="M483.1 575.8L487.9 580.5L483.1 585.2L478.4 580.5Z" fill="#000"/>
<path d="M484.1 588.8L488.9 593.5L484.1 598.2L479.4 593.5Z" fill="#000"/>
<path d="M483.3 597.5L488.1 602.2L483.3 607.0L478.6 602.2Z" fill="#000"/>
<path d="M495.5 575.8L500.2 580.5L495.5 585.2L490.8 580.5Z" fill="#000"/>
<path d="M498.3 586.0L503.1 590.8L498.3 595.5L493.6 590.8Z" fill="#000"/>
<path d="M500.3 594.8L505.1 599.5L500.3 604.2L495.6 599.5Z" fill="#000"/>
<path d="M502.6 602.6L507.4 607.4L502.6 612.1L497.9 607.4Z" fill="#000"/>
<path d="M513.1 602.6L517.9 607.4L513.1 612.1L508.4 607.4Z" fill="#000"/>
<path d="M522.5 604.5L527.2 609.3L522.5 614.0L517.8 609.3Z" fill="#000"/>
<path d="M524.3 530.6L529.0 535.4L524.3 540.1L519.5 535.4Z" fill="#000"/>
<path d="M534.3 544.2L539.0 549.0L534.3 553.8L529.5 549.0Z" fill="#000"/>
<path d="M532.9 560.8L537.6 565.5L532.9 570.2L528.1 565.5Z" fill="#000"/>
<path d="M589.7 573.5L594.5 578.3L589.7 583.0L585.0 578.3Z" fill="#000"/>
<path d="M557.0 586.1L561.8 590.9L557.0 595.6L552.2 590.9Z" fill="#000"/>
<path d="M550.5 595.1L555.2 599.9L550.5 604.6L545.8 599.9Z" fill="#000"/>
<path d="M562.3 618.0L567.0 622.8L562.3 627.5L557.5 622.8Z" fill="#000"/>
<path d="M567.9 627.2L572.6 632.0L567.9 636.8L563.1 632.0Z" fill="#000"/>
<path d="M647.6 522.5L652.4 527.2L647.6 532.0L642.9 527.2Z" fill="#000"/>
<line x1="418.1" y1="585.2" x2="680.0" y2="585.2" stroke="#000" stroke-width="3"/>
<text x="696.2" y="536.0" font-size="12.2" text-anchor="middle" fill="#5f5f5f" font-weight="bold" >8</text>
<text x="695.6" y="590.8" font-size="12.2" text-anchor="middle" fill="#5f5f5f" font-weight="bold" >-4</text>
<text x="693.0" y="643.7" font-size="12.2" text-anchor="middle" fill="#5f5f5f" font-weight="bold" >-16</text>
<text x="452.5" y="696.9" font-size="17.1" fill="#595959" textLength="193.4" lengthAdjust="spacingAndGlyphs" >(MM + T<tspan font-size="70%" dy="3">2</tspan><tspan dy="-3">bSSFP)/2 T<tspan font-size="70%" dy="3">2</tspan><tspan dy="-3"> (ms)</tspan></tspan></text>
<text x="0.0" y="0.0" font-size="18" text-anchor="middle" fill="#595959" textLength="153.7" lengthAdjust="spacingAndGlyphs" transform="translate(369.4,590.6) scale(0.97,1) rotate(-90)">MM-T<tspan font-size="70%" dy="3">2</tspan><tspan dy="-3">bSSFP T<tspan font-size="70%" dy="3">2</tspan><tspan dy="-3"> (ms)</tspan></tspan></text>
<line x1="94.6" y1="728.2" x2="94.6" y2="896.8" stroke="#c9c9c9" stroke-width="1"/>
<line x1="94.6" y1="896.8" x2="341.6" y2="896.8" stroke="#c9c9c9" stroke-width="1"/>
<text x="83.1" y="902.0" font-size="12.9" text-anchor="end" fill="#404040" >10</text>
<text x="83.1" y="873.7" font-size="12.9" text-anchor="end" fill="#404040" >20</text>
<text x="83.1" y="845.4" font-size="12.9" text-anchor="end" fill="#404040" >30</text>
<text x="83.1" y="817.1" font-size="12.9" text-anchor="end" fill="#404040" >40</text>
<text x="83.1" y="788.9" font-size="12.9" text-anchor="end" fill="#404040" >50</text>
<text x="83.1" y="760.6" font-size="12.9" text-anchor="end" fill="#404040" >60</text>
<text x="83.1" y="732.3" font-size="12.9" text-anchor="end" fill="#404040" >70</text>
<text x="94.8" y="917.8" font-size="12.5" text-anchor="middle" fill="#404040" letter-spacing="2.0" >10</text>
<text x="144.2" y="917.8" font-size="12.5" text-anchor="middle" fill="#404040" letter-spacing="2.0" >20</text>
<text x="193.7" y="917.8" font-size="12.5" text-anchor="middle" fill="#404040" letter-spacing="2.0" >30</text>
<text x="243.1" y="917.8" font-size="12.5" text-anchor="middle" fill="#404040" letter-spacing="2.0" >40</text>
<text x="292.6" y="917.8" font-size="12.5" text-anchor="middle" fill="#404040" letter-spacing="2.0" >50</text>
<text x="342.0" y="917.8" font-size="12.5" text-anchor="middle" fill="#404040" letter-spacing="2.0" >60</text>
<path d="M301.0 756.1L305.9 761.0L301.0 765.9L296.1 761.0Z" fill="#000"/>
<path d="M238.7 816.6L243.5 821.5L238.7 826.4L233.8 821.5Z" fill="#000"/>
<path d="M224.8 826.9L229.7 831.8L224.8 836.6L220.0 831.8Z" fill="#000"/>
<path d="M205.0 824.8L209.8 829.6L205.0 834.5L200.2 829.6Z" fill="#000"/>
<path d="M202.7 835.8L207.5 840.6L202.7 845.5L197.8 840.6Z" fill="#000"/>
<path d="M199.4 838.6L204.2 843.5L199.4 848.4L194.6 843.5Z" fill="#000"/>
<path d="M214.9 844.9L219.8 849.8L214.9 854.6L210.1 849.8Z" fill="#000"/>
<path d="M179.2 843.1L184.0 848.0L179.2 852.9L174.3 848.0Z" fill="#000"/>
<path d="M176.3 851.5L181.2 856.4L176.3 861.2L171.5 856.4Z" fill="#000"/>
<path d="M182.5 851.5L187.3 856.4L182.5 861.2L177.7 856.4Z" fill="#000"/>
<path d="M164.5 852.6L169.3 857.5L164.5 862.4L159.7 857.5Z" fill="#000"/>
<path d="M161.6 860.8L166.4 865.6L161.6 870.5L156.8 865.6Z" fill="#000"/>
<line x1="120.1" y1="896.8" x2="300.0" y2="771.9" stroke="#000" stroke-width="2"/>
<line x1="95.2" y1="896.8" x2="325.0" y2="753.6" stroke="#000" stroke-width="2" stroke-dasharray="8,6.5"/>
<text x="161.2" y="754.3" font-size="15.7" text-anchor="middle" fill="#000" >y = 0.76x + 9</text>
<text x="160.6" y="772.6" font-size="15.7" text-anchor="middle" fill="#000" >r² = 0.91</text>
<text x="156.6" y="940.9" font-size="18" fill="#595959" textLength="123.4" lengthAdjust="spacingAndGlyphs" >MOLLI ECV (%)</text>
<text x="0.0" y="0.0" font-size="18" text-anchor="middle" fill="#595959" textLength="98.8" lengthAdjust="spacingAndGlyphs" transform="translate(63.8,812.4) scale(0.97,1) rotate(-90)">MM ECV (%)</text>
<text x="0.0" y="0.0" font-size="19.8" text-anchor="middle" fill="#000" font-weight="bold" textLength="125.5" lengthAdjust="spacingAndGlyphs" transform="translate(24.1,821.8) rotate(-90)">Synthetic ECV</text>
<line x1="415.7" y1="711.9" x2="415.7" y2="735.8" stroke="#c9c9c9" stroke-width="1"/>
<line x1="415.7" y1="746.2" x2="415.7" y2="802.3" stroke="#c9c9c9" stroke-width="1"/>
<line x1="415.7" y1="812.7" x2="415.7" y2="869.3" stroke="#c9c9c9" stroke-width="1"/>
<line x1="415.7" y1="879.7" x2="415.7" y2="895.9" stroke="#c9c9c9" stroke-width="1"/>
<line x1="415.7" y1="895.9" x2="694.0" y2="895.9" stroke="#c9c9c9" stroke-width="1"/>
<text x="404.5" y="717.0" font-size="12.6" text-anchor="end" fill="#404040" >8</text>
<text x="404.5" y="737.4" font-size="12.6" text-anchor="end" fill="#404040" >6</text>
<text x="404.5" y="757.8" font-size="12.6" text-anchor="end" fill="#404040" >4</text>
<text x="404.5" y="778.1" font-size="12.6" text-anchor="end" fill="#404040" >2</text>
<text x="404.5" y="798.5" font-size="12.6" text-anchor="end" fill="#404040" >0</text>
<text x="404.5" y="818.8" font-size="12.6" text-anchor="end" fill="#404040" >-2</text>
<text x="404.5" y="839.2" font-size="12.6" text-anchor="end" fill="#404040" >-4</text>
<text x="404.5" y="859.6" font-size="12.6" text-anchor="end" fill="#404040" >-6</text>
<text x="404.5" y="879.9" font-size="12.6" text-anchor="end" fill="#404040" >-8</text>
<text x="404.5" y="900.3" font-size="12.6" text-anchor="end" fill="#404040" >-10</text>
<text x="416.0" y="916.2" font-size="12.5" text-anchor="middle" fill="#404040" letter-spacing="2.0" >0</text>
<text x="508.1" y="916.2" font-size="12.5" text-anchor="middle" fill="#404040" letter-spacing="2.0" >20</text>
<text x="600.2" y="916.2" font-size="12.5" text-anchor="middle" fill="#404040" letter-spacing="2.0" >40</text>
<text x="692.3" y="916.2" font-size="12.5" text-anchor="middle" fill="#404040" letter-spacing="2.0" >60</text>
<line x1="422.6" y1="741.0" x2="686.5" y2="741.0" stroke="#4f4f4f" stroke-width="2.3" stroke-dasharray="0.01,5.49" stroke-linecap="round"/>
<line x1="422.6" y1="874.7" x2="686.5" y2="874.7" stroke="#4f4f4f" stroke-width="2.3" stroke-dasharray="0.01,5.49" stroke-linecap="round"/>
<path d="M669.8 721.7L673.9 725.8L669.8 729.9L665.7 725.8Z" fill="#000"/>
<path d="M569.0 772.4L573.1 776.5L569.0 780.6L564.9 776.5Z" fill="#000"/>
<path d="M526.5 792.4L530.6 796.5L526.5 800.6L522.4 796.5Z" fill="#000"/>
<path d="M540.5 789.4L544.6 793.5L540.5 797.6L536.4 793.5Z" fill="#000"/>
<path d="M518.0 816.4L522.1 820.5L518.0 824.6L513.9 820.5Z" fill="#000"/>
<path d="M533.0 809.4L537.1 813.5L533.0 817.6L528.9 813.5Z" fill="#000"/>
<path d="M537.0 821.9L541.1 826.0L537.0 830.1L532.9 826.0Z" fill="#000"/>
<path d="M555.0 812.4L559.1 816.5L555.0 820.6L550.9 816.5Z" fill="#000"/>
<path d="M559.5 807.4L563.6 811.5L559.5 815.6L555.4 811.5Z" fill="#000"/>
<path d="M575.5 819.9L579.6 824.0L575.5 828.1L571.4 824.0Z" fill="#000"/>
<path d="M591.5 813.4L595.6 817.5L591.5 821.6L587.4 817.5Z" fill="#000"/>
<path d="M557.0 865.9L561.1 870.0L557.0 874.1L552.9 870.0Z" fill="#000"/>
<line x1="419.6" y1="807.5" x2="688.0" y2="807.5" stroke="#000" stroke-width="3"/>
<text x="699.7" y="743.2" font-size="11.8" text-anchor="middle" fill="#5f5f5f" font-weight="bold" >5</text>
<text x="699.4" y="812.7" font-size="11.8" text-anchor="middle" fill="#5f5f5f" font-weight="bold" >-1</text>
<text x="701.0" y="877.0" font-size="11.8" text-anchor="middle" fill="#5f5f5f" font-weight="bold" >-8</text>
<text x="456.0" y="936.4" font-size="17.1" fill="#595959" textLength="197.5" lengthAdjust="spacingAndGlyphs" >(MM + MOLLI)/2 ECV (%)</text>
<text x="0.0" y="0.0" font-size="18" text-anchor="middle" fill="#595959" textLength="166.6" lengthAdjust="spacingAndGlyphs" transform="translate(378.9,803.3) scale(0.97,1) rotate(-90)">MM - MOLLI ECV (%)</text>
<rect x="221" y="965.3" width="9" height="8.5" rx="1.5" fill="#4a8ad0"/>
<text x="237.5" y="981.4" font-size="20" fill="#000" >Native</text>
<rect x="376.8" y="965.3" width="9.2" height="8.2" rx="1.5" fill="#ff0000"/>
<text x="393.5" y="980.9" font-size="20" fill="#000" >Post Contrast</text>
</svg></body></html>
